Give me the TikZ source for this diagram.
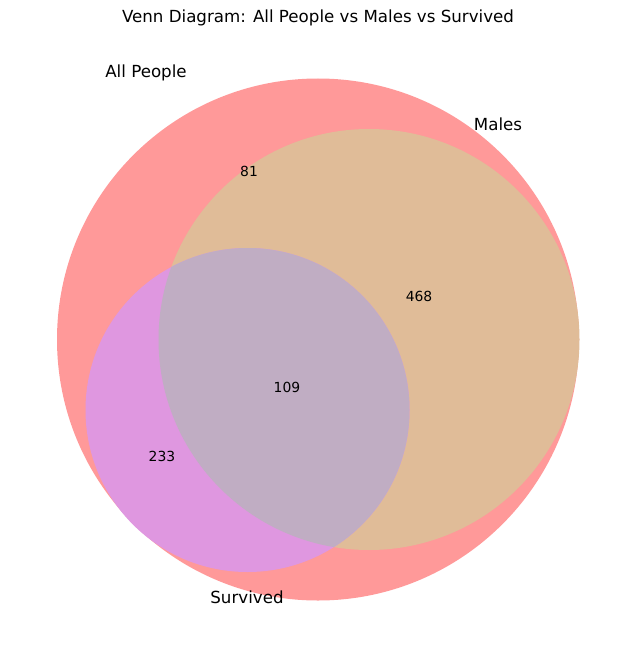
\documentclass[tikz,border=0pt]{standalone}
\usepackage{fontspec}
\setmainfont{DejaVu Sans}
\definecolor{aonly}{HTML}{FF9999}
\definecolor{ab}{HTML}{E0BC98}
\definecolor{ac}{HTML}{DF97E0}
\definecolor{abc}{HTML}{C0ADC3}
\begin{document}
\begin{tikzpicture}[x=0.72pt,y=-0.72pt,
  setlabel/.style={font=\fontsize{12}{14}\selectfont, inner sep=0pt},
  countlabel/.style={font=\fontsize{10}{12}\selectfont, inner sep=0pt}]
\useasboundingbox (0,0) rectangle (636,658);
\fill[aonly] (318,339.5) circle (261);
\fill[ab] (369,339.5) circle (210.5);
\fill[ac] (247.5,410) circle (162);
\begin{scope}
  \clip (247.5,410) circle (162);
  \fill[abc] (369,339.5) circle (210.5);
\end{scope}
\node[setlabel] (title) at (318,18) {Venn Diagram: All People vs Males vs Survived};
\node[setlabel] (lA) at (146,73) {All People};
\node[setlabel] (lB) at (498,124) {Males};
\node[setlabel] (lC) at (247,597) {Survived};
\node[countlabel] (n81) at (249,171) {81};
\node[countlabel] (n468) at (419,296) {468};
\node[countlabel] (n109) at (287,387) {109};
\node[countlabel] (n233) at (162,456) {233};
\end{tikzpicture}
\end{document}
